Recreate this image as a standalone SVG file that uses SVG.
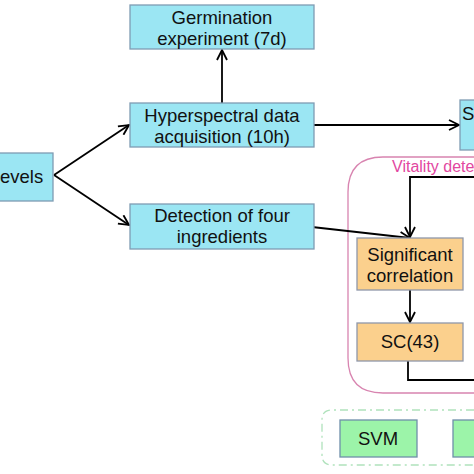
<svg xmlns="http://www.w3.org/2000/svg" width="474" height="474" viewBox="0 0 474 474">
<defs>
<marker id="ah" viewBox="0 0 12 12" refX="11" refY="6" markerWidth="12" markerHeight="12" markerUnits="userSpaceOnUse" orient="auto">
<path d="M1,1 L11,6 L1,11" fill="none" stroke="#000" stroke-width="1.8"/>
</marker>
<style>
.t{font-family:"Liberation Sans",Arial,sans-serif;font-size:18.5px;fill:#111;text-anchor:middle}
.cy{fill:#9be6f3;stroke:#7f9cb3;stroke-width:1.3}
.or{fill:#fbd08d;stroke:#8f97aa;stroke-width:1.3}
.gr{fill:#9cf4a9;stroke:#6f8faa;stroke-width:1.3}
.ln{fill:none;stroke:#000;stroke-width:1.8}
</style>
</defs>
<rect width="474" height="474" fill="#fff"/>
<g id="vitality-group">
<path d="M474,157 H383 Q348,157 348,192 V358 Q348,393 383,393 H474" fill="none" stroke="#d884b0" stroke-width="1.3"/>
<text x="392" y="172" style="font-family:'Liberation Sans',Arial,sans-serif;font-size:16px;fill:#e2479f">Vitality dete</text>
</g>
<g id="model-group">
<path d="M474,410 H332 Q322,410 322,420 V455 Q322,465 332,465 H474" fill="none" stroke="#b0e2bc" stroke-width="1.3" stroke-dasharray="8,4,2,4"/>
</g>
<g id="connectors">
<line class="ln" x1="222" y1="103" x2="222" y2="50" marker-end="url(#ah)"/>
<line class="ln" x1="314" y1="125" x2="459" y2="125" marker-end="url(#ah)"/>
<line class="ln" x1="54" y1="175" x2="129" y2="125" marker-end="url(#ah)"/>
<line class="ln" x1="54" y1="175" x2="129" y2="225" marker-end="url(#ah)"/>
<line class="ln" x1="312" y1="227" x2="410" y2="238" marker-end="url(#ah)"/>
<polyline class="ln" points="474,177 410,177 410,237" marker-end="url(#ah)"/>
<line class="ln" x1="410" y1="290" x2="410" y2="322" marker-end="url(#ah)"/>
<polyline class="ln" points="408,361 408,380 474,380"/>
</g>
<g id="levels">
<rect class="cy" x="-10" y="153" width="63" height="48"/>
<text class="t" x="0" y="183" style="text-anchor:start">evels</text>
</g>
<g id="germination">
<rect class="cy" x="130" y="5" width="184" height="44"/>
<text class="t" x="222" y="24">Germination</text>
<text class="t" x="222" y="45">experiment (7d)</text>
</g>
<g id="hyperspectral">
<rect class="cy" x="130" y="103" width="184" height="44"/>
<text class="t" x="222" y="122">Hyperspectral data</text>
<text class="t" x="222" y="143">acquisition (10h)</text>
</g>
<g id="detection">
<rect class="cy" x="130" y="204" width="184" height="45"/>
<text class="t" x="222" y="222">Detection of four</text>
<text class="t" x="222" y="243">ingredients</text>
</g>
<g id="s-box">
<rect class="cy" x="460" y="100" width="24" height="50"/>
<text class="t" x="462" y="120" style="text-anchor:start">S</text>
</g>
<g id="significant">
<rect class="or" x="357" y="238" width="106" height="52"/>
<text class="t" x="410" y="261">Significant</text>
<text class="t" x="410" y="282">correlation</text>
</g>
<g id="sc43">
<rect class="or" x="357" y="323" width="106" height="38"/>
<text class="t" x="410" y="348">SC(43)</text>
</g>
<g id="svm">
<rect class="gr" x="340" y="420" width="77" height="37"/>
<text class="t" x="378" y="445">SVM</text>
</g>
<g id="model2">
<rect class="gr" x="453" y="420" width="30" height="37"/>
</g>
</svg>
